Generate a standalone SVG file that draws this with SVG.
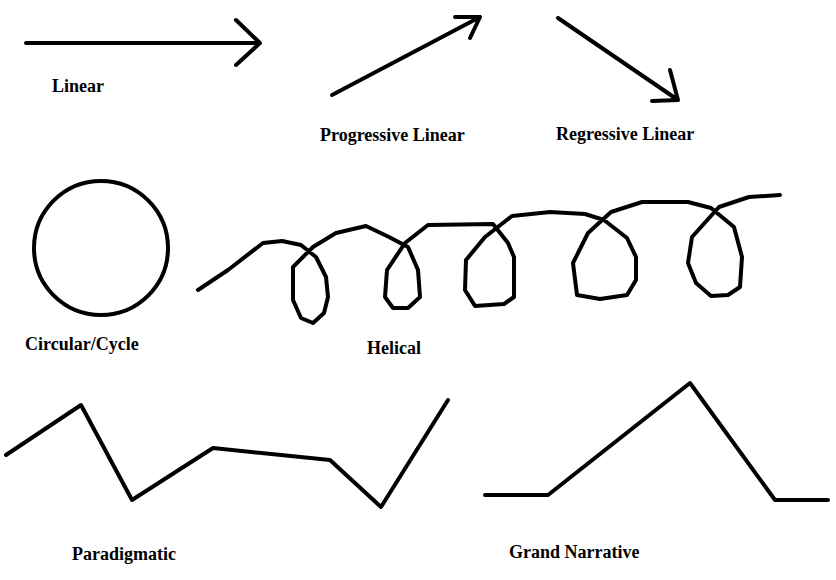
<svg xmlns="http://www.w3.org/2000/svg" width="836" height="580" viewBox="0 0 836 580">
<style>
.s{fill:none;stroke:#000;stroke-width:4;stroke-linejoin:round;stroke-linecap:round}
.t{font-family:"Liberation Serif",serif;font-weight:bold;font-size:18px;fill:#000}
</style>
<rect width="836" height="580" fill="#fff"/>
<path class="s" d="M26,43 L260,43 M236,20 L260,43 L236,65"/>
<path class="s" d="M332,95 L480,17 M455,17 L480,17 L470,38"/>
<path class="s" d="M558,18 L678,100 M670,70 L678,100 L652,101"/>
<circle class="s" cx="101" cy="248" r="67"/>
<polyline class="s" points="198,290 228,270 263,243 282,241 301,245 316,257 326,277 328,297 324,313 313,323 301,318 293,300 293,267 313,247 336,233 366,226 389,237 408,247 418,270 420,297 408,308 393,308 385,297 387,270 405,243 428,225 493,224 508,243 514,257 514,297 504,304 475,306 465,290 466,260 485,237 512,216 550,212 585,214 604,220 627,238 636,257 636,280 627,295 600,299 577,295 573,263 588,233 611,212 642,202 688,202 711,208 734,227 742,257 740,287 728,295 711,296 696,283 688,263 692,237 719,207 749,197 780,195"/>
<polyline class="s" points="6,455 81,405 132,500 213,448 330,460 381,507 448,400"/>
<polyline class="s" points="485,495 548,495 690,383 775,500 828,500"/>
<text class="t" x="52" y="92">Linear</text>
<text class="t" x="320" y="141">Progressive Linear</text>
<text class="t" x="556" y="140">Regressive Linear</text>
<text class="t" x="25" y="350">Circular/Cycle</text>
<text class="t" x="367" y="354">Helical</text>
<text class="t" x="72" y="560">Paradigmatic</text>
<text class="t" x="509" y="558">Grand Narrative</text>
</svg>
